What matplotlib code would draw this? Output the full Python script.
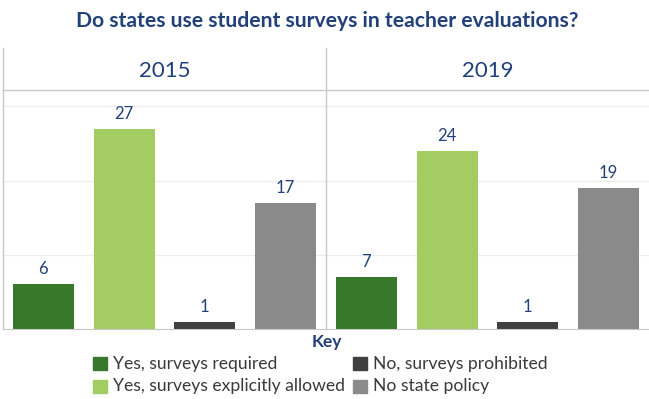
import matplotlib
matplotlib.use("Agg")
import matplotlib.pyplot as plt
from matplotlib.patches import Rectangle
from matplotlib.lines import Line2D

years = ["2015", "2019"]
categories = ["Yes, surveys required", "Yes, surveys explicitly allowed",
              "No, surveys prohibited", "No state policy"]
values_2015 = [6, 27, 1, 17]
values_2019 = [7, 24, 1, 19]
colors = ["#37782c", "#a3cd63", "#404040", "#8a8a8a"]
navy = "#22407a"
FONT = "Lato"

W, H = 649, 399
fig = plt.figure(figsize=(W/100, H/100), dpi=100)

def fx(px): return px / W
def fy(py): return 1 - py / H

fig.text(fx(327), fy(21), "Do states use student surveys in teacher evaluations?",
         ha="center", va="center", fontsize=15.2, fontweight="bold", color=navy, family=FONT)

left, mid, right = 3, 326, 649
top_hdr, hdr_bot, base = 48, 90, 329
gridc = "#c8c8c8"
for x in [left, mid]:
    fig.add_artist(Line2D([fx(x), fx(x)], [fy(top_hdr), fy(base)], color=gridc, lw=1))
fig.add_artist(Line2D([fx(left), fx(right)], [fy(hdr_bot), fy(hdr_bot)], color=gridc, lw=1))

for i, (yr, vals) in enumerate(zip(years, [values_2015, values_2019])):
    x0 = left if i == 0 else mid
    x1 = mid if i == 0 else right
    fig.text(fx((x0 + x1) / 2), fy(71), yr, ha="center", va="center",
             fontsize=16, color=navy, family=FONT)
    ax = fig.add_axes([fx(x0), fy(base), fx(x1 - x0), (base - hdr_bot) / H])
    ax.set_xlim(-0.5, 3.5)
    ax.set_ylim(0, 32.2)
    for g in [10, 20, 30]:
        ax.axhline(g, color="#ececec", lw=0.8, zorder=0)
    bars = ax.bar(range(4), vals, width=0.755, color=colors, zorder=2)
    for b, v in zip(bars, vals):
        ax.text(b.get_x() + b.get_width() / 2, v + 0.95, str(v), ha="center", va="bottom",
                fontsize=12, color=navy, family=FONT)
    for s in ax.spines.values():
        s.set_visible(False)
    ax.spines["bottom"].set_visible(True)
    ax.spines["bottom"].set_color(gridc)
    ax.set_xticks([]); ax.set_yticks([])
    ax.patch.set_alpha(0)

fig.text(fx(327), fy(342), "Key", ha="center", va="center", fontsize=12.5,
         fontweight="bold", color=navy, family=FONT)
leg_pos = [(93, 363.5), (93, 386), (353, 363.5), (353, 386)]
for (px, py), cat, c in zip(leg_pos, categories, colors):
    fig.add_artist(Rectangle((fx(px), fy(py + 6.5)), 14 / W, 13 / H, color=c,
                             transform=fig.transFigure))
    fig.text(fx(px + 20), fy(py), cat, ha="left", va="center", fontsize=12.6,
             color="#3a3a3a", family=FONT)

fig.savefig("out.png", dpi=100)
